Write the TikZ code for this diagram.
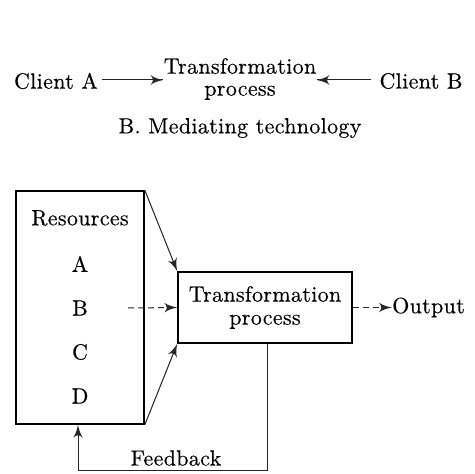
\documentclass[tikz,border=0pt]{standalone}
\usepackage{fontspec}
\setmainfont{Latin Modern Roman}[LetterSpace=1.5, FakeBold=0.3]
\usepackage{tikz}
\usetikzlibrary{arrows}
\usetikzlibrary{decorations.markings}
\usetikzlibrary{positioning}
\tikzset{headarrow/.style = {decoration={markings,
                                         mark=at position 1 with {\arrow[scale=1.5]{latex'}}},
                             postaction={decorate}}}
\tikzset{box/.style = {draw, line width=0.8pt, inner sep=0}}
\tikzset{txt/.style = {align=center, inner sep=0, font=\fontsize{11}{11}\selectfont}}
\tikzset{link/.style = {draw=black!85, line width=0.5pt}}

\begin{document}
\begin{tikzpicture}[x=0.5pt, y=-0.5pt]
    \useasboundingbox (0, 0) rectangle (474, 474);

    % mediating technology
    \node [txt] (mtrans) at (240, 79) {Transformation\\process};
    \node [txt] (clientA) at (56, 81) {Client A};
    \node [txt] (clientB) at (421, 81) {Client B};
    \node [txt] (mcap) at (240, 128) {B. Mediating technology};
    \draw [link, headarrow] ([xshift=2pt]clientA.east |- 0, 80) -- (mtrans.west |- 0, 80);
    \draw [link, headarrow] ([xshift=-4pt]clientB.west |- 0, 80) -- (mtrans.east |- 0, 80);

    % resources and transformation
    \node [box, minimum width=64pt, minimum height=116.5pt] (res) at (80, 307.5) {};
    \node [txt] (resname) at (80, 218) {Resources};
    \foreach \name [count=\i] in {A, B, C, D}
      \node [txt] (r\name) at (80, 220 + 44*\i) {\name};

    \node [box, txt, minimum width=87pt, minimum height=35.5pt,
           font=\fontsize{11}{11.5}\selectfont] (trans) at (265, 307.5)
          {Transformation\\process};
    \node [txt, right=19.5pt of trans] (output) {Output};

    \draw [link, headarrow, shorten >=3pt] (res.north east) -- (trans.north west);
    \draw [link, headarrow, shorten >=2pt] (res.south east) -- (trans.south west);
    \draw [link, densely dashed, headarrow, shorten >=3pt] ([xshift=20pt]rB.east) -- (trans.west);
    \draw [link, densely dashed, headarrow, shorten >=2.5pt] (trans.east) -- (output.west);

    % feedback loop
    \coordinate (fb) at (78, 470);
    \draw [link, headarrow, shorten >=2.5pt] ([xshift=1pt]trans.south) |- (fb) -- (fb |- res.south);
    \node [txt] (fbname) at (176, 458) {Feedback};
  \end{tikzpicture}
\end{document}
